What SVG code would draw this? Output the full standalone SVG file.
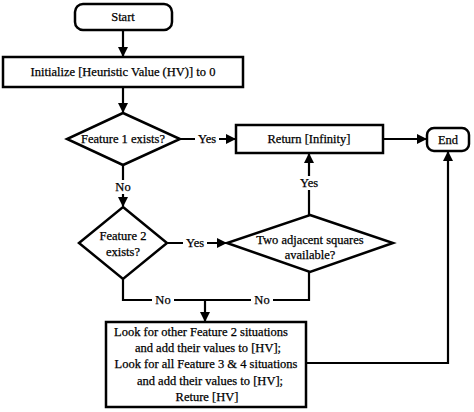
<svg xmlns="http://www.w3.org/2000/svg" width="474" height="412" viewBox="0 0 474 412" font-family="'Liberation Serif', 'Times New Roman', 'DejaVu Serif', serif">
<style>
.s{fill:#fff;stroke:#000;stroke-width:2.5}
.c{fill:none;stroke:#000;stroke-width:2.2}
text{font-family:'Liberation Serif','Times New Roman','DejaVu Serif',serif;font-size:12.5px;fill:#000;text-anchor:middle;dominant-baseline:central;stroke:#000;stroke-width:0.25}
.lb{fill:#fff}
</style>
<defs>
<marker id="a" markerWidth="10" markerHeight="10" refX="9" refY="5" orient="auto" markerUnits="userSpaceOnUse"><path d="M0,0 L10,5 L0,10 Z" fill="#000"/></marker>
</defs>
<rect width="474" height="412" fill="#fff"/>
<g id="connectors">
<path class="c" d="M123,30 V56" marker-end="url(#a)"/>
<path class="c" d="M123,87 V112" marker-end="url(#a)"/>
<path class="c" d="M180,139 H235" marker-end="url(#a)"/>
<path class="c" d="M123,165 V206" marker-end="url(#a)"/>
<path class="c" d="M167,243 H226" marker-end="url(#a)"/>
<path class="c" d="M309,215 V154" marker-end="url(#a)"/>
<path class="c" d="M383,139 H426" marker-end="url(#a)"/>
<path class="c" d="M123,279 V300 H309 V272"/>
<path class="c" d="M205,300 V321" marker-end="url(#a)"/>
<path class="c" d="M307,363 H448 V152" marker-end="url(#a)"/>
<rect class="lb" x="195" y="132" width="24" height="14"/>
<text x="207" y="139">Yes</text>
<rect class="lb" x="113" y="180" width="20" height="14"/>
<text x="123" y="187">No</text>
<rect class="lb" x="183" y="236" width="24" height="14"/>
<text x="195" y="243">Yes</text>
<rect class="lb" x="297" y="176" width="24" height="14"/>
<text x="309" y="183">Yes</text>
<rect class="lb" x="152" y="293" width="22" height="14"/>
<text x="163" y="300">No</text>
<rect class="lb" x="251" y="293" width="22" height="14"/>
<text x="262" y="300">No</text>
</g>
<g id="start">
<rect class="s" x="75" y="4" width="97" height="26" rx="8"/>
<text x="123" y="17">Start</text>
</g>
<g id="init">
<rect class="s" x="3" y="57" width="240" height="30"/>
<text x="123" y="72">Initialize [Heuristic Value (HV)] to 0</text>
</g>
<g id="feature1">
<path class="s" d="M123,113 L180,139 L123,165 L67,139 Z"/>
<text x="123" y="139">Feature 1 exists?</text>
</g>
<g id="return-infinity">
<rect class="s" x="236" y="125" width="147" height="28"/>
<text x="309" y="139">Return [Infinity]</text>
</g>
<g id="end">
<rect class="s" x="427" y="128" width="42" height="23" rx="7"/>
<text x="448" y="139.5">End</text>
</g>
<g id="feature2">
<path class="s" d="M123,207 L167,243 L123,279 L79,243 Z"/>
<text x="123" y="236">Feature 2</text>
<text x="123" y="252">exists?</text>
</g>
<g id="adjacent">
<path class="s" d="M310,215 L393,243 L310,272 L227,243 Z"/>
<text x="310" y="240">Two adjacent squares</text>
<text x="310" y="255">available?</text>
</g>
<g id="lookfor">
<rect class="s" x="106" y="322" width="200" height="85"/>
<text x="201" y="332">Look for other Feature 2 situations</text>
<text x="208" y="348">and add their values to [HV];</text>
<text x="206" y="364">Look for all Feature 3 &amp; 4 situations</text>
<text x="210" y="381">and add their values to [HV];</text>
<text x="207" y="397">Reture [HV]</text>
</g>
</svg>
